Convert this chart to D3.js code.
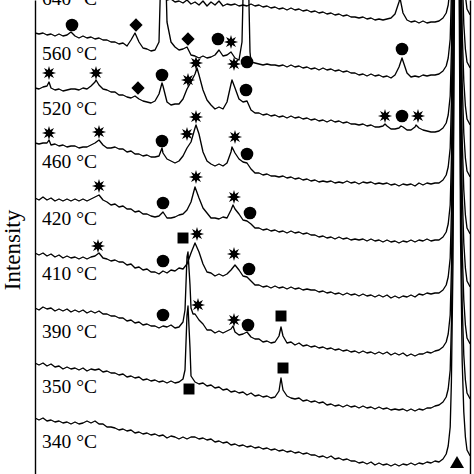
<!DOCTYPE html>
<html>
<head>
<meta charset="utf-8">
<script src="https://cdn.jsdelivr.net/npm/d3@7"></script>
<style>
  body { margin: 0; background: #fff; }
  svg { display: block; }
</style>
</head>
<body>
<div id="chart"></div>
<script>
// stacked XRD scans, one per annealing temperature (top to bottom)
const temps = ["640 °C", "560 °C", "520 °C", "460 °C", "420 °C", "410 °C", "390 °C", "350 °C", "340 °C"];
// vertical shift of each scan in the stack (intensity units)
const offsets = [452, 397, 342, 289, 232, 177, 119, 64, 9];

// scans sampled every 0.5 deg 2theta from 15 to 66
const start = 15, step = 0.5;
const i640 = [45,43,45,42,43,41,42,40,41,39, 39,37,38,36,37,35,36,34,34,32, 33,31,32,30,31,28,29,27,28,26, 26,24,25,22,23,20,21,19,22,18,
  20,17,21,16,20,17,21,16,18,17, 18,16,17,16,18,16,17,15,16,14, 15,13,14,12,14,12,13,11,12,10, 11,9,10,8,9,7,8,6,7,5,
  5,4,5,3,4,2,3,2,3,4, 8,20,9,2,0,1,-1,1,-1,0, 0,1,4];
const i560 = [44,43,44,42,43,41,43,41,42,45, 41,39,41,39,40,38,39,37,37,35, 35,33,34,31,37,44,35,29,28,26, 27,35,320,55,35,30,27,28,30,22,
  21,19,21,19,20,22,27,21,22,25, 19,17,80,260,15,14,13,12,13,12, 12,11,12,10,12,10,11,9,10,8, 9,7,9,7,8,6,7,5,6,4,
  4,2,3,1,3,1,2,0,1,-1, 2,10,16,4,0,1,0,2,1,2, 2,3,6];
const i520 = [44,43,45,46,44,42,43,41,42,43, 43,42,44,43,46,50,47,43,42,40, 40,37,37,35,34,36,33,31,30,29, 31,38,46,30,27,28,28,33,43,50,
  58,57,42,32,27,23,25,23,30,48, 44,33,30,31,22,19,19,17,18,16, 17,15,16,14,16,14,15,13,14,12, 13,11,12,10,12,10,11,9,10,8,
  8,7,8,6,7,5,5,6,6,3, 3,4,5,2,2,5,4,2,1,0, 0,1,4];
const i460 = [42,41,42,42,40,41,39,40,38,39, 39,37,38,38,40,42,45,40,37,37, 38,36,36,33,34,31,31,29,30,28, 28,29,32,26,24,22,24,29,37,43,
  57,51,33,24,21,19,21,19,22,33, 32,26,23,22,16,12,12,10,11,9, 9,8,9,7,8,6,7,5,6,4, 5,3,4,3,4,2,3,2,4,2,
  3,1,3,2,3,1,2,1,2,0, 1,-1,1,0,1,-1,2,0,2,1, 2,2,5];
const i420 = [44,42,45,42,44,41,43,41,43,41, 43,41,43,41,43,45,47,42,40,37, 38,35,36,33,33,30,31,28,28,26, 25,26,30,24,24,25,27,28,32,40,
  55,44,34,29,24,24,23,25,24,32, 33,28,22,21,18,14,14,12,13,11, 12,10,11,9,11,9,10,8,9,7, 7,5,6,4,5,3,5,3,4,2,
  3,2,3,1,3,1,2,0,2,0, 1,-1,1,0,2,0,2,1,3,1, 2,2,5];
const i410 = [44,42,44,41,43,40,42,39,41,39, 40,38,40,38,40,41,44,39,38,36, 37,35,35,32,33,29,30,27,28,25, 25,23,26,24,27,26,29,28,33,44,
  54,45,33,25,24,21,23,21,23,27, 32,27,21,20,16,12,12,10,11,9, 11,9,10,8,10,8,9,7,8,7, 7,5,6,4,5,3,4,2,4,2,
  3,1,3,1,2,0,2,0,2,-1, 1,-1,1,0,2,0,3,2,4,3, 4,4,7];
const i390 = [47,45,48,46,47,44,46,44,46,43, 45,43,45,42,44,42,44,41,41,39, 39,37,37,34,35,32,33,30,31,29, 29,27,29,28,30,27,28,33,98,47,
  41,35,31,25,25,22,24,22,24,26, 23,20,21,23,18,16,16,13,14,12, 13,19,19,12,13,10,12,9,10,8, 9,7,8,6,7,5,6,4,5,3,
  4,2,4,2,3,1,3,1,3,0, 2,0,2,-1,1,-1,1,1,3,2, 4,5,8];
const i350 = [47,45,47,44,46,43,44,41,43,41, 42,40,42,39,41,40,41,38,39,37, 37,35,36,33,34,32,33,30,31,29, 30,28,29,27,29,27,28,31,95,34,
  28,26,27,24,25,22,23,20,21,18, 19,17,18,15,17,14,15,13,14,12, 13,19,20,14,12,11,12,9,10,8, 9,7,8,5,6,4,5,3,5,3,
  4,2,4,2,3,1,3,1,2,0, 1,0,1,-1,1,-1,1,0,2,2, 4,5,8];
const i340 = [47,45,47,44,45,43,44,42,43,41, 43,41,42,44,42,44,41,41,38,38, 37,35,36,34,35,32,33,31,32,30, 31,29,30,27,29,28,26,28,26,28,
  28,26,27,25,26,23,24,22,23,20, 21,19,20,18,19,17,18,16,17,15, 16,14,15,13,14,12,13,11,12,10, 10,8,9,7,9,6,7,5,6,4,
  4,2,3,1,3,0,2,0,1,-1, 1,-1,1,0,2,0,2,1,3,2, 4,3,6];

// extra points [2theta, intensity] read at peak tops and on the substrate reflection
const pk640 = [[60.625,24], [66.4,9],[66.65,17],[66.9,36],[67.05,81],[67.25,201],[67.45,501],[67.6,901],[67.8,901],[68.0,501],[68.2,221],[68.4,101],[68.6,51],[68.8,26],[69.0,13],[69.4,7]];
const pk560 = [[30.75,110],[31.25,130],[40.875,35],[41.125,170],[41.375,320],[41.625,120],[41.875,25],[60.875,19],
  [66.4,11],[66.65,19],[66.9,38],[67.05,83],[67.25,203],[67.45,503],[67.6,903],[67.8,903],[68.0,503],[68.2,223],[68.4,103],[68.6,53],[68.8,28],[69.0,15],[69.4,9]];
const pk520 = [[16.75,50],[22.625,52],[30.875,49],[35.25,64],[39.625,52],[58.75,8],[60.75,6],[62.625,7],
  [66.4,9],[66.65,17],[66.9,36],[67.05,81],[67.25,201],[67.45,501],[67.6,901],[67.8,901],[68.0,501],[68.2,221],[68.4,101],[68.6,51],[68.8,26],[69.0,13],[69.4,7]];
const pk460 = [[16.75,45],[30.875,37],[35.125,60],[39.625,38],
  [66.4,10],[66.65,18],[66.9,37],[67.05,82],[67.25,202],[67.45,502],[67.6,902],[67.8,902],[68.0,502],[68.2,222],[68.4,102],[68.6,52],[68.8,27],[69.0,14],[69.4,8]];
const pk420 = [[39.75,37],
  [66.4,10],[66.65,18],[66.9,37],[67.05,82],[67.25,202],[67.45,502],[67.6,902],[67.8,902],[68.0,502],[68.2,222],[68.4,102],[68.6,52],[68.8,27],[69.0,14],[69.4,8]];
const pk410 = [[66.4,12],[66.65,20],[66.9,39],[67.05,84],[67.25,204],[67.45,504],[67.6,904],[67.8,904],[68.0,504],[68.2,224],[68.4,104],[68.6,54],[68.8,29],[69.0,16],[69.4,10]];
const pk390 = [[33.75,45],[34.125,103],[34.375,70],[34.75,41],[39.75,29],[45.75,28],
  [66.4,13],[66.65,21],[66.9,40],[67.05,85],[67.25,205],[67.45,505],[67.6,905],[67.8,905],[68.0,505],[68.2,225],[68.4,105],[68.6,55],[68.8,30],[69.0,17],[69.4,11]];
const pk350 = [[33.75,40],[34.125,104],[34.375,62],[45.75,32],
  [66.4,13],[66.65,21],[66.9,40],[67.05,85],[67.25,205],[67.45,505],[67.6,905],[67.8,905],[68.0,505],[68.2,225],[68.4,105],[68.6,55],[68.8,30],[69.0,17],[69.4,11]];
const pk340 = [[66.4,11],[66.65,19],[66.9,38],[67.05,83],[67.25,203],[67.45,503],[67.6,903],[67.8,903],[68.0,503],[68.2,223],[68.4,103],[68.6,53],[68.8,28],[69.0,15],[69.4,9]];

const scans = [i640, i560, i520, i460, i420, i410, i390, i350, i340];
const extras = [pk640, pk560, pk520, pk460, pk420, pk410, pk390, pk350, pk340];

// phase markers: [scan index, 2theta, intensity]
const circles = [[1,19.625,52],[1,37.875,38],[1,41.5,15],[1,60.875,28],
  [2,30.875,57],[2,41.375,42],[2,60.875,16],
  [3,30.875,44],[3,41.5,31],
  [4,31.0,39],[4,41.875,29],
  [5,31.0,36],[5,41.75,28],
  [6,31.0,40],[6,41.625,30]];
const stars = [[1,39.5,35],
  [2,16.75,59],[2,22.625,59],[2,34.125,52],[2,35.125,69],[2,39.875,68],[2,58.75,16],[2,62.875,16],
  [3,16.75,52],[3,23.0,53],[3,34.0,51],[3,35.125,68],[3,40.0,48],
  [4,23.0,56],[4,35.125,65],[4,39.875,45],
  [5,22.875,51],[5,35.25,63],[5,39.875,43],
  [6,35.375,50],[6,39.875,35]];
const diamonds = [[1,27.625,52],[1,34.125,38],[2,27.875,44]];
const squares = [[6,33.5,117],[6,45.75,39],[7,34.25,21],[7,46.0,42]];
const triangles = [[8,67.75,1]];

const width = 474, height = 474;

let svg = d3.select("#chart").append("svg")
    .attr("width", width)
    .attr("height", height);

let x = d3.scaleLinear().domain([15, 70]).range([35, 475]);
let y = d3.scaleLinear().domain([0, 474]).range([474, 0]);

svg.append("defs").append("clipPath")
    .attr("id", "plot")
    .append("rect")
    .attr("x", 35).attr("y", 0)
    .attr("width", 435).attr("height", height);

// frame: left axis and right border, no ticks
svg.append("g")
    .attr("transform", "translate(35,0)")
    .call(d3.axisLeft(y).ticks(0).tickSizeOuter(0))
    .select(".domain").attr("stroke", "#000").attr("stroke-width", 1.4);
svg.append("g")
    .attr("transform", "translate(470,0)")
    .call(d3.axisRight(y).ticks(0).tickSizeOuter(0))
    .select(".domain").attr("stroke", "#000").attr("stroke-width", 1.4);

let plot = svg.append("g").attr("clip-path", "url(#plot)");

scans.forEach(function (vals, k) {
    let pts = vals.map((v, i) => [start + i * step, v])
        .concat(extras[k])
        .sort((a, b) => a[0] - b[0]);
    let line = d3.line()
        .x(d => x(d[0]))
        .y(d => y(offsets[k] + d[1]));
    plot.append("path")
        .datum(pts)
        .attr("d", line)
        .attr("fill", "none")
        .attr("stroke", "#000")
        .attr("stroke-width", 1.35)
        .attr("stroke-linejoin", "round");
});

// 8-point star used for one of the phases
const star8 = {
    draw(ctx, size) {
        let R = Math.sqrt(size) / 2, r = R * 0.45;
        for (let i = 0; i < 16; i++) {
            let a = i * Math.PI / 8 - Math.PI / 2;
            let rad = i % 2 ? r : R;
            if (i == 0) ctx.moveTo(rad * Math.cos(a), rad * Math.sin(a));
            else ctx.lineTo(rad * Math.cos(a), rad * Math.sin(a));
        }
        ctx.closePath();
    }
};

function addMarkers(list, type, size, rot) {
    svg.append("g")
        .selectAll("path")
        .data(list)
        .enter()
        .append("path")
        .attr("d", d3.symbol().type(type).size(size))
        .attr("transform", d => "translate(" + x(d[1]) + "," + y(offsets[d[0]] + d[2]) + ")" + (rot ? " rotate(" + rot + ")" : ""))
        .attr("fill", "#000");
}

addMarkers(circles, d3.symbolCircle, 125);
addMarkers(stars, star8, 200);
addMarkers(diamonds, d3.symbolSquare, 88, 45);
addMarkers(squares, d3.symbolSquare, 120);
addMarkers(triangles, d3.symbolTriangle, 85);

// temperature labels sit just above each scan, on the left
svg.append("g")
    .selectAll("text")
    .data(temps)
    .enter()
    .append("text")
    .attr("x", 42)
    .attr("y", (d, k) => y(offsets[k]) - 17)
    .attr("font-family", "'Liberation Serif', 'Times New Roman', serif")
    .attr("font-size", 19.5)
    .attr("fill", "#000")
    .text(d => d);

svg.append("text")
    .attr("transform", "translate(20,250) rotate(-90)")
    .attr("text-anchor", "middle")
    .attr("font-family", "'Liberation Serif', 'Times New Roman', serif")
    .attr("font-size", 23)
    .attr("fill", "#000")
    .text("Intensity");
</script>
</body>
</html>
